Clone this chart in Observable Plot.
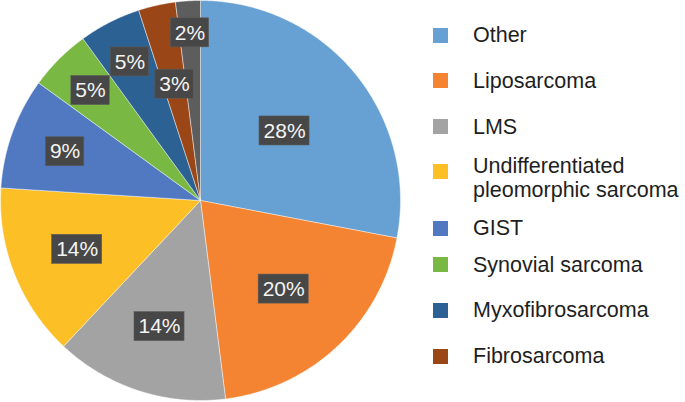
<!DOCTYPE html>
<html><head><meta charset="utf-8">
<script src="https://cdn.jsdelivr.net/npm/d3@7"></script>
<script src="https://cdn.jsdelivr.net/npm/@observablehq/plot@0.6"></script>
<style>
body{margin:0;background:#fff;}
#wrap{position:relative;width:685px;height:402px;font-family:"Liberation Sans",Arial,Helvetica,sans-serif;overflow:hidden;}
#wrap svg{display:block;position:absolute;left:0;top:0;}
.leg{position:absolute;left:433px;display:flex;align-items:flex-start;font-size:21.5px;line-height:24px;color:#1e1e1e;white-space:pre;}
.sw{width:15px;height:15px;flex:none;margin-right:25px;}
</style></head><body><div id="wrap"></div>
<script>
// ---- data ----
const categories = ["Other","Liposarcoma","LMS","Undifferentiated pleomorphic sarcoma","GIST","Synovial sarcoma","Myxofibrosarcoma","Fibrosarcoma","Unlisted"];
const percents = [28,20,14,14,9,5,5,3,2];
const colors = ["#67a0d3","#f48431","#a3a3a3","#fcbf26","#5079c2","#78b843","#2b6193","#9a4616","#5d5d5d"];
const legendLabels = ["Other","Liposarcoma","LMS","Undifferentiated\npleomorphic sarcoma","GIST","Synovial sarcoma","Myxofibrosarcoma","Fibrosarcoma"];

// ---- layout ----
const R = 200; // pixels per data unit (pie radius)
const pie = d3.pie().sort(null).value(d => d)(percents);
const slicePts = [];
pie.forEach((s, i) => {
  const name = categories[i];
  slicePts.push({name, x: 0, y: 0});
  const n = Math.max(2, Math.ceil((s.endAngle - s.startAngle) / (Math.PI / 360)));
  for (let k = 0; k <= n; k++) {
    const a = s.startAngle + (s.endAngle - s.startAngle) * k / n;
    slicePts.push({name, x: Math.sin(a), y: Math.cos(a)});
  }
  slicePts.push({name, x: 0, y: 0});
});

// label placement: radial distance depends on slice size, then simple collision avoidance
const canvas = document.createElement("canvas");
const ctx = canvas.getContext("2d");
const labelFont = 21;
ctx.font = `${labelFont}px "Liberation Sans"`;
const boxH = 29, padX = 4, gapX = 0, gapY = 2, clearance = 0.1;
const labels = pie.map((s, i) => {
  const text = percents[i] + "%";
  const w = ctx.measureText(text).width + 2 * padX;
  return {i, text, w, a: (s.startAngle + s.endAngle) / 2, f: 0.9475 - 0.076 * Math.sqrt(percents[i])};
});
function pos(l) { return [R + R * l.f * Math.sin(l.a), R - R * l.f * Math.cos(l.a)]; }
function overlap(l, m) {
  const [x1, y1] = pos(l), [x2, y2] = pos(m);
  return Math.abs(x1 - x2) < (l.w + m.w) / 2 + gapX && Math.abs(y1 - y2) < boxH + gapY;
}
const placed = [];
for (let i = labels.length - 1; i >= 0; i--) {
  const l = labels[i];
  let moved = false;
  while (placed.some(m => overlap(l, m)) && l.f > 0.2) { l.f -= 0.005; moved = true; }
  if (moved) l.f -= clearance;
  placed.push(l);
}
labels.forEach(l => {
  l.x = l.f * Math.sin(l.a);
  l.y = l.f * Math.cos(l.a);
  l.x1 = l.x - l.w / 2 / R; l.x2 = l.x + l.w / 2 / R;
  l.y1 = l.y - boxH / 2 / R; l.y2 = l.y + boxH / 2 / R;
});

const chart = Plot.plot({
  width: 685,
  height: 402,
  x: {domain: [-1, 1], range: [0, 2 * R], axis: null},
  y: {domain: [-1, 1], range: [2 * R, 0], axis: null},
  color: {domain: categories, range: colors},
  marks: [
    Plot.line(slicePts, {x: "x", y: "y", z: "name", fill: "name", stroke: "#ffffff", strokeOpacity: 0.55, strokeWidth: 0.8, curve: "linear"}),
    Plot.rect(labels, {x1: "x1", x2: "x2", y1: "y1", y2: "y2", fill: "#474747", stroke: "#5c5c5c", strokeWidth: 0.6}),
    Plot.text(labels, {x: "x", y: "y", text: "text", fill: "#f4f4f4", fontSize: labelFont, fontFamily: "Liberation Sans, Arial, sans-serif"})
  ]
});
const wrap = document.getElementById("wrap");
wrap.appendChild(chart);

// ---- legend (HTML) ----
const legendTop = [23, 68.5, 114.5, 153.5, 216, 252.5, 298, 344];
legendLabels.forEach((lab, i) => {
  const row = document.createElement("div");
  row.className = "leg";
  row.style.top = legendTop[i] + "px";
  const sw = document.createElement("div");
  sw.className = "sw";
  sw.style.background = colors[i];
  sw.style.marginTop = (lab.includes("\n") ? 10.5 : 4.5) + "px";
  const tx = document.createElement("div");
  tx.textContent = lab;
  row.appendChild(sw); row.appendChild(tx);
  wrap.appendChild(row);
});
</script></body></html>
